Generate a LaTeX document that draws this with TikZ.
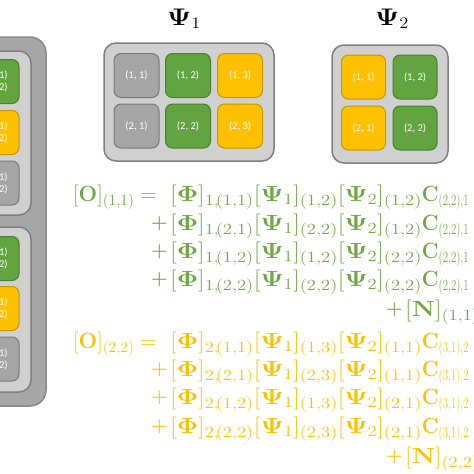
\RequirePackage{fix-cm}
\documentclass[tikz,border=0pt]{standalone}
\usepackage[no-math]{fontspec}
\usepackage{amsmath}
\usepackage{graphicx}
\newfontfamily\tilefont{Carlito}
\DeclareMathSizes{22}{22}{15.5}{11}
\DeclareMathSizes{24}{24}{16}{12}
\definecolor{eqgreen}{HTML}{6DAA45}
\definecolor{eqyellow}{HTML}{FFC000}
\definecolor{tgreen}{HTML}{62A43F}
\definecolor{tgreenb}{HTML}{4C8030}
\definecolor{tyellow}{HTML}{FFC000}
\definecolor{tyellowb}{HTML}{C99700}
\definecolor{tgray}{HTML}{A5A5A5}
\definecolor{tgrayb}{HTML}{7A7A7A}
\definecolor{panel}{HTML}{D0D0D0}
\definecolor{panelb}{HTML}{7F7F7F}
\definecolor{outerfill}{HTML}{A6A6A6}
\definecolor{outerb}{HTML}{8A8A8A}
\newcommand{\lplus}{\llap{\raisebox{1.5pt}{\fontsize{19}{19}\selectfont\bfseries +}\hspace{2.5pt}}}
\newcommand{\Cterm}[1]{\scalebox{0.78}[1]{$\mathbf{C}$}\scalebox{0.58}[1]{${}_{#1}$}}
\begin{document}
\begin{tikzpicture}[x=1pt,y=-1pt,
  tile/.style={rectangle, rounded corners=7pt, minimum width=44pt, minimum height=44pt,
    line width=1pt, inner sep=0pt, align=center, text=white,
    font=\tilefont\fontsize{10.5}{12}\selectfont},
  gtile/.style={tile, fill=tgreen, draw=tgreenb},
  ytile/.style={tile, fill=tyellow, draw=tyellowb},
  ktile/.style={tile, fill=tgray, draw=tgrayb},
  panelbox/.style={fill=panel, draw=panelb, line width=1.5pt, rounded corners=12pt},
  outerbox/.style={fill=outerfill, draw=outerb, line width=1.5pt, rounded corners=16pt},
  eq/.style={anchor=base west, inner sep=0pt, font=\fontsize{22}{26}\selectfont},
  eqg/.style={eq, text=eqgreen},
  eqy/.style={eq, text=eqyellow},
  ttl/.style={anchor=base west, inner sep=0pt, font=\fontsize{24}{28}\selectfont},
]
\useasboundingbox (0,0) rectangle (474,474);

% left column (Phi)
\draw[outerbox] (-60,37) rectangle (46,406);
\draw[panelbox] (-50,51) rectangle (31,215);
\draw[panelbox] (-50,227) rectangle (31,392);
\node[gtile, minimum width=45pt] (fa) at (-3.5,81.5) {(1, 1)\\(1, 2)};
\node[ytile, minimum width=45pt] (fb) at (-3.5,132.5) {(1, 1)\\(1, 2)};
\node[ktile, minimum width=45pt] (fc) at (-3.5,183) {(1, 1)\\(1, 2)};
\node[gtile, minimum width=45pt] (fd) at (-3.5,258.5) {(1, 1)\\(1, 2)};
\node[ytile, minimum width=45pt] (fe) at (-3.5,308.5) {(1, 1)\\(1, 2)};
\node[ktile, minimum width=45pt] (ff) at (-3.5,359) {(1, 1)\\(1, 2)};

% Psi_1
\node[ttl] (t1) at (167,25) {\scalebox{1.15}[1]{$\mathbf{\Psi}_1$}};
\draw[panelbox] (104,43) rectangle (274,161);
\node[ktile, minimum width=45pt] (a11) at (136.5,75.5) {(1, 1)};
\node[gtile, minimum width=45pt] (a12) at (188,75.5) {(1, 2)};
\node[ytile, minimum width=45pt] (a13) at (240,75.5) {(1, 3)};
\node[ktile, minimum width=45pt] (a21) at (136.5,126) {(2, 1)};
\node[gtile, minimum width=45pt] (a22) at (188,126) {(2, 2)};
\node[ytile, minimum width=45pt] (a23) at (240,126) {(2, 3)};

% Psi_2
\node[ttl] (t2) at (375,25) {\scalebox{1.15}[1]{$\mathbf{\Psi}_2$}};
\draw[panelbox] (332,45) rectangle (448,163);
\node[ytile] (b11) at (363.5,77) {(1, 1)};
\node[gtile] (b12) at (415,77) {(1, 2)};
\node[ytile] (b21) at (363.5,128) {(2, 1)};
\node[gtile] (b22) at (415,128) {(2, 2)};

% green equation
\node[eqg] (g0) at (73,201) {$[\mathbf{O}]_{(1,1)} =$};
\node[eqg] (g1) at (170,201) {\scalebox{1.2}[1]{$[\mathbf{\Phi}]_{1,\!(1,1)}[\mathbf{\Psi}_1]_{(1,2)}[\mathbf{\Psi}_2]_{(1,2)}$\Cterm{(2,2),1}}};
\node[eqg] (g2) at (170,230) {\lplus\scalebox{1.2}[1]{$[\mathbf{\Phi}]_{1,\!(2,1)}[\mathbf{\Psi}_1]_{(2,2)}[\mathbf{\Psi}_2]_{(1,2)}$\Cterm{(2,2),1}}};
\node[eqg] (g3) at (170,258) {\lplus\scalebox{1.2}[1]{$[\mathbf{\Phi}]_{1,\!(1,2)}[\mathbf{\Psi}_1]_{(1,2)}[\mathbf{\Psi}_2]_{(2,2)}$\Cterm{(2,2),1}}};
\node[eqg] (g4) at (170,286) {\lplus\scalebox{1.2}[1]{$[\mathbf{\Phi}]_{1,\!(2,2)}[\mathbf{\Psi}_1]_{(2,2)}[\mathbf{\Psi}_2]_{(2,2)}$\Cterm{(2,2),1}}};
\node[eqg] (g5) at (405,316) {\lplus\scalebox{1.2}[1]{$[\mathbf{N}]_{(1,1)}$}};

% yellow equation
\node[eqy] (y0) at (73,348) {$[\mathbf{O}]_{(2,2)} =$};
\node[eqy] (y1) at (170,348) {\scalebox{1.2}[1]{$[\mathbf{\Phi}]_{2,\!(1,1)}[\mathbf{\Psi}_1]_{(1,3)}[\mathbf{\Psi}_2]_{(1,1)}$\Cterm{(3,1),2}}};
\node[eqy] (y2) at (170,376) {\lplus\scalebox{1.2}[1]{$[\mathbf{\Phi}]_{2,\!(2,1)}[\mathbf{\Psi}_1]_{(2,3)}[\mathbf{\Psi}_2]_{(1,1)}$\Cterm{(3,1),2}}};
\node[eqy] (y3) at (170,404) {\lplus\scalebox{1.2}[1]{$[\mathbf{\Phi}]_{2,\!(1,2)}[\mathbf{\Psi}_1]_{(1,3)}[\mathbf{\Psi}_2]_{(2,1)}$\Cterm{(3,1),2}}};
\node[eqy] (y4) at (170,433) {\lplus\scalebox{1.2}[1]{$[\mathbf{\Phi}]_{2,\!(2,2)}[\mathbf{\Psi}_1]_{(2,3)}[\mathbf{\Psi}_2]_{(2,1)}$\Cterm{(3,1),2}}};
\node[eqy] (y5) at (405,463) {\lplus\scalebox{1.2}[1]{$[\mathbf{N}]_{(2,2)}$}};
\end{tikzpicture}
\end{document}
